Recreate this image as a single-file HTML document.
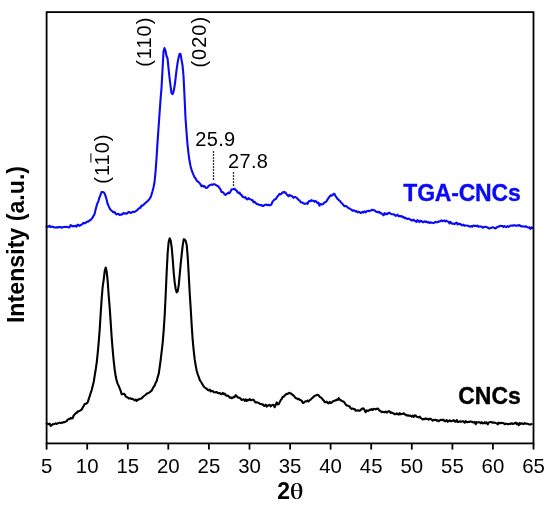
<!DOCTYPE html>
<html><head><meta charset="utf-8"><style>
html,body{margin:0;padding:0;background:#fff;}
svg{display:block;}
</style></head><body>
<svg width="550" height="507" viewBox="0 0 550 507">
<rect width="550" height="507" fill="#fff"/>
<g fill="none" stroke-linejoin="round" stroke-linecap="round">
<path d="M46.5,226.5 L47.5,226.8 L48.5,226.6 L49.5,225.7 L50.5,227.0 L51.5,226.9 L52.5,226.5 L53.5,227.3 L54.5,227.4 L55.5,227.5 L56.5,227.3 L57.5,227.6 L58.5,226.9 L59.5,227.2 L60.5,227.0 L61.5,227.7 L62.5,227.3 L63.5,227.1 L64.5,226.8 L65.5,227.0 L66.5,227.0 L67.5,226.7 L68.5,227.5 L69.5,227.3 L70.5,225.1 L71.5,225.5 L72.5,226.4 L73.5,226.0 L74.5,226.1 L75.5,225.9 L76.5,226.7 L77.5,224.7 L78.5,224.9 L79.5,225.9 L80.5,225.0 L81.5,224.7 L82.5,223.8 L83.5,222.8 L84.5,223.4 L85.5,223.0 L86.5,221.9 L87.5,221.6 L88.5,221.4 L89.5,220.5 L90.5,219.9 L91.5,218.9 L92.5,217.8 L93.5,215.8 L94.5,214.3 L95.5,210.1 L96.5,206.2 L97.5,203.2 L98.5,200.8 L99.5,197.4 L100.5,195.0 L101.5,192.0 L102.5,192.0 L103.5,192.2 L104.5,193.3 L105.5,195.9 L106.5,199.2 L107.5,203.4 L108.5,205.9 L109.5,207.9 L110.5,209.7 L111.5,210.5 L112.5,211.5 L113.5,212.4 L114.5,211.9 L115.5,213.4 L116.5,214.4 L117.5,213.9 L118.5,213.9 L119.5,215.0 L120.5,214.6 L121.5,214.8 L122.5,213.9 L123.5,213.1 L124.5,213.7 L125.5,213.3 L126.5,213.8 L127.5,213.2 L128.5,212.0 L129.5,212.0 L130.5,212.9 L131.5,212.7 L132.5,211.8 L133.5,212.0 L134.5,211.9 L135.5,211.3 L136.5,210.7 L137.5,209.7 L138.5,208.7 L139.5,207.9 L140.5,207.7 L141.5,205.5 L142.5,205.7 L143.5,205.0 L144.5,203.5 L145.5,203.2 L146.5,201.8 L147.5,201.4 L148.5,200.1 L149.5,198.8 L150.5,197.4 L151.5,194.6 L152.5,191.3 L153.5,187.4 L154.5,182.3 L155.5,172.1 L156.5,158.6 L157.5,142.6 L158.5,128.3 L159.5,114.0 L160.5,100.0 L161.5,88.1 L162.5,70.0 L163.5,51.5 L164.5,48.1 L165.5,50.9 L166.5,56.0 L167.5,58.2 L168.5,68.2 L169.5,77.5 L170.5,85.7 L171.5,93.0 L172.5,94.2 L173.5,91.9 L174.5,86.8 L175.5,79.0 L176.5,70.3 L177.5,63.3 L178.5,57.9 L179.5,54.1 L180.5,53.9 L181.5,59.6 L182.5,65.2 L183.5,75.9 L184.5,96.1 L185.5,118.0 L186.5,131.8 L187.5,144.4 L188.5,153.6 L189.5,160.8 L190.5,165.9 L191.5,169.6 L192.5,172.4 L193.5,174.9 L194.5,177.2 L195.5,178.3 L196.5,180.4 L197.5,181.2 L198.5,182.1 L199.5,183.1 L200.5,184.3 L201.5,186.2 L202.5,185.5 L203.5,186.7 L204.5,186.0 L205.5,187.5 L206.5,188.0 L207.5,187.4 L208.5,186.1 L209.5,185.2 L210.5,184.9 L211.5,184.5 L212.5,184.9 L213.5,184.2 L214.5,184.2 L215.5,184.8 L216.5,185.4 L217.5,186.0 L218.5,186.4 L219.5,188.2 L220.5,189.4 L221.5,191.9 L222.5,192.1 L223.5,192.7 L224.5,194.3 L225.5,194.9 L226.5,194.0 L227.5,193.4 L228.5,192.5 L229.5,193.2 L230.5,191.4 L231.5,189.5 L232.5,189.2 L233.5,189.1 L234.5,188.7 L235.5,190.1 L236.5,190.4 L237.5,192.1 L238.5,193.0 L239.5,192.5 L240.5,194.6 L241.5,194.7 L242.5,196.7 L243.5,197.0 L244.5,197.6 L245.5,197.2 L246.5,199.1 L247.5,199.4 L248.5,198.0 L249.5,199.1 L250.5,199.2 L251.5,200.0 L252.5,200.1 L253.5,202.2 L254.5,201.7 L255.5,202.8 L256.5,203.9 L257.5,204.0 L258.5,204.6 L259.5,204.7 L260.5,205.2 L261.5,205.1 L262.5,205.9 L263.5,205.9 L264.5,205.0 L265.5,204.7 L266.5,204.6 L267.5,205.3 L268.5,204.8 L269.5,205.2 L270.5,205.1 L271.5,204.3 L272.5,201.7 L273.5,200.6 L274.5,199.5 L275.5,199.3 L276.5,198.0 L277.5,196.4 L278.5,195.3 L279.5,193.9 L280.5,194.4 L281.5,193.7 L282.5,192.3 L283.5,192.6 L284.5,191.9 L285.5,192.7 L286.5,194.2 L287.5,195.1 L288.5,196.3 L289.5,194.8 L290.5,195.8 L291.5,195.7 L292.5,196.5 L293.5,197.8 L294.5,197.0 L295.5,197.1 L296.5,197.6 L297.5,198.7 L298.5,199.8 L299.5,200.4 L300.5,202.0 L301.5,202.5 L302.5,202.6 L303.5,203.4 L304.5,203.9 L305.5,203.6 L306.5,203.2 L307.5,203.9 L308.5,201.8 L309.5,200.8 L310.5,201.2 L311.5,200.2 L312.5,200.8 L313.5,200.9 L314.5,201.6 L315.5,200.9 L316.5,201.9 L317.5,203.2 L318.5,202.6 L319.5,205.7 L320.5,204.0 L321.5,204.1 L322.5,204.5 L323.5,203.7 L324.5,202.3 L325.5,202.3 L326.5,201.3 L327.5,199.6 L328.5,198.0 L329.5,196.7 L330.5,195.3 L331.5,195.8 L332.5,195.2 L333.5,193.8 L334.5,193.8 L335.5,196.2 L336.5,197.2 L337.5,198.9 L338.5,199.6 L339.5,200.8 L340.5,201.6 L341.5,203.0 L342.5,203.8 L343.5,205.1 L344.5,206.3 L345.5,205.9 L346.5,206.3 L347.5,207.3 L348.5,208.0 L349.5,208.5 L350.5,209.3 L351.5,209.6 L352.5,210.8 L353.5,210.3 L354.5,210.7 L355.5,211.4 L356.5,211.1 L357.5,212.4 L358.5,211.8 L359.5,212.2 L360.5,212.9 L361.5,212.8 L362.5,211.9 L363.5,212.5 L364.5,211.3 L365.5,212.4 L366.5,211.4 L367.5,211.0 L368.5,210.9 L369.5,211.1 L370.5,210.8 L371.5,210.0 L372.5,209.7 L373.5,210.3 L374.5,210.2 L375.5,211.3 L376.5,211.9 L377.5,211.8 L378.5,212.5 L379.5,211.9 L380.5,213.3 L381.5,213.4 L382.5,214.2 L383.5,215.3 L384.5,213.2 L385.5,214.4 L386.5,213.5 L387.5,214.1 L388.5,212.8 L389.5,212.8 L390.5,213.6 L391.5,214.2 L392.5,214.3 L393.5,214.3 L394.5,214.8 L395.5,215.9 L396.5,215.5 L397.5,214.6 L398.5,216.2 L399.5,216.1 L400.5,216.4 L401.5,216.0 L402.5,217.2 L403.5,216.9 L404.5,218.2 L405.5,217.8 L406.5,218.6 L407.5,219.0 L408.5,218.5 L409.5,219.2 L410.5,219.5 L411.5,220.4 L412.5,220.4 L413.5,219.7 L414.5,220.8 L415.5,221.1 L416.5,222.0 L417.5,220.1 L418.5,220.9 L419.5,222.1 L420.5,220.7 L421.5,221.0 L422.5,222.1 L423.5,222.3 L424.5,221.3 L425.5,221.9 L426.5,221.6 L427.5,222.5 L428.5,222.1 L429.5,222.9 L430.5,222.3 L431.5,222.8 L432.5,222.7 L433.5,223.1 L434.5,222.6 L435.5,221.7 L436.5,222.3 L437.5,222.3 L438.5,221.6 L439.5,221.4 L440.5,221.3 L441.5,220.3 L442.5,221.1 L443.5,221.0 L444.5,220.3 L445.5,221.5 L446.5,220.7 L447.5,221.5 L448.5,221.8 L449.5,223.4 L450.5,221.8 L451.5,223.2 L452.5,223.7 L453.5,223.6 L454.5,224.2 L455.5,223.1 L456.5,222.6 L457.5,224.4 L458.5,223.5 L459.5,224.2 L460.5,223.9 L461.5,225.2 L462.5,225.3 L463.5,224.6 L464.5,225.7 L465.5,225.5 L466.5,225.5 L467.5,225.8 L468.5,225.9 L469.5,226.5 L470.5,226.6 L471.5,226.0 L472.5,226.6 L473.5,225.6 L474.5,225.9 L475.5,225.8 L476.5,226.3 L477.5,225.5 L478.5,226.9 L479.5,226.4 L480.5,226.5 L481.5,226.6 L482.5,227.6 L483.5,227.4 L484.5,226.8 L485.5,226.8 L486.5,227.2 L487.5,227.2 L488.5,228.3 L489.5,228.5 L490.5,228.1 L491.5,227.8 L492.5,227.2 L493.5,227.5 L494.5,227.9 L495.5,228.5 L496.5,227.6 L497.5,226.7 L498.5,226.7 L499.5,226.2 L500.5,225.8 L501.5,226.0 L502.5,226.1 L503.5,227.1 L504.5,226.0 L505.5,226.8 L506.5,227.1 L507.5,226.0 L508.5,226.9 L509.5,226.3 L510.5,225.5 L511.5,225.8 L512.5,225.6 L513.5,225.4 L514.5,225.3 L515.5,225.6 L516.5,225.8 L517.5,225.2 L518.5,225.8 L519.5,225.0 L520.5,226.1 L521.5,226.4 L522.5,226.3 L523.5,226.5 L524.5,226.8 L525.5,226.3 L526.5,226.7 L527.5,227.2 L528.5,227.6 L529.5,227.4 L530.5,228.8 L531.5,227.4 L532.5,228.2" stroke="#0a0af5" stroke-width="2.1"/>
<path d="M46.7,423.7 L47.7,423.8 L48.7,424.3 L49.7,423.6 L50.7,425.9 L51.7,425.2 L52.7,424.1 L53.7,424.3 L54.7,423.9 L55.7,423.3 L56.7,424.0 L57.7,423.2 L58.7,423.0 L59.7,422.6 L60.7,423.1 L61.7,422.6 L62.7,422.8 L63.7,422.0 L64.7,422.3 L65.7,421.5 L66.7,421.1 L67.7,419.7 L68.7,419.1 L69.7,418.9 L70.7,417.9 L71.7,418.5 L72.7,418.0 L73.7,415.5 L74.7,414.4 L75.7,413.2 L76.7,412.9 L77.7,411.4 L78.7,411.4 L79.7,410.8 L80.7,410.2 L81.7,409.4 L82.7,407.5 L83.7,406.1 L84.7,404.0 L85.7,403.7 L86.7,403.4 L87.7,402.3 L88.7,399.1 L89.7,396.2 L90.7,392.9 L91.7,390.1 L92.7,386.1 L93.7,382.0 L94.7,375.6 L95.7,369.5 L96.7,362.6 L97.7,353.2 L98.7,342.3 L99.7,329.4 L100.7,313.2 L101.7,298.2 L102.7,286.3 L103.7,279.6 L104.7,271.0 L105.7,267.5 L106.7,271.8 L107.7,281.4 L108.7,295.8 L109.7,307.6 L110.7,322.6 L111.7,337.7 L112.7,350.1 L113.7,360.8 L114.7,369.7 L115.7,376.3 L116.7,380.9 L117.7,383.9 L118.7,385.9 L119.7,388.3 L120.7,390.9 L121.7,394.4 L122.7,394.0 L123.7,393.7 L124.7,394.3 L125.7,396.5 L126.7,397.3 L127.7,397.4 L128.7,398.5 L129.7,398.4 L130.7,398.4 L131.7,399.0 L132.7,398.9 L133.7,399.7 L134.7,400.4 L135.7,399.5 L136.7,401.0 L137.7,399.5 L138.7,399.6 L139.7,398.7 L140.7,398.7 L141.7,398.2 L142.7,397.2 L143.7,396.3 L144.7,395.5 L145.7,394.7 L146.7,393.6 L147.7,393.4 L148.7,392.9 L149.7,392.3 L150.7,391.3 L151.7,390.6 L152.7,388.5 L153.7,386.8 L154.7,385.5 L155.7,382.6 L156.7,381.0 L157.7,377.1 L158.7,373.9 L159.7,367.0 L160.7,359.6 L161.7,351.2 L162.7,342.6 L163.7,330.2 L164.7,315.0 L165.7,294.3 L166.7,271.5 L167.7,252.4 L168.7,241.7 L169.7,238.3 L170.7,240.7 L171.7,247.3 L172.7,258.9 L173.7,272.5 L174.7,282.6 L175.7,289.0 L176.7,292.4 L177.7,291.3 L178.7,285.3 L179.7,274.7 L180.7,263.6 L181.7,254.3 L182.7,245.4 L183.7,239.3 L184.7,239.5 L185.7,241.0 L186.7,245.0 L187.7,256.6 L188.7,274.3 L189.7,293.0 L190.7,308.5 L191.7,325.5 L192.7,340.2 L193.7,350.7 L194.7,359.4 L195.7,365.6 L196.7,370.7 L197.7,374.1 L198.7,376.8 L199.7,379.9 L200.7,381.5 L201.7,383.0 L202.7,384.7 L203.7,386.4 L204.7,387.5 L205.7,388.2 L206.7,388.7 L207.7,389.8 L208.7,390.5 L209.7,389.6 L210.7,391.3 L211.7,390.9 L212.7,391.1 L213.7,392.1 L214.7,392.3 L215.7,392.4 L216.7,392.0 L217.7,393.0 L218.7,393.3 L219.7,392.9 L220.7,394.1 L221.7,394.1 L222.7,392.9 L223.7,394.2 L224.7,393.7 L225.7,395.2 L226.7,395.7 L227.7,395.6 L228.7,396.4 L229.7,397.6 L230.7,397.4 L231.7,398.3 L232.7,397.7 L233.7,396.9 L234.7,397.1 L235.7,395.2 L236.7,396.1 L237.7,397.2 L238.7,397.7 L239.7,397.8 L240.7,398.9 L241.7,400.0 L242.7,399.6 L243.7,399.2 L244.7,400.8 L245.7,399.3 L246.7,400.9 L247.7,399.9 L248.7,400.3 L249.7,399.0 L250.7,400.1 L251.7,400.1 L252.7,399.6 L253.7,400.0 L254.7,401.3 L255.7,402.5 L256.7,402.3 L257.7,402.6 L258.7,402.9 L259.7,403.8 L260.7,404.0 L261.7,404.4 L262.7,404.2 L263.7,405.7 L264.7,405.9 L265.7,404.5 L266.7,406.6 L267.7,405.8 L268.7,405.3 L269.7,404.8 L270.7,406.3 L271.7,405.4 L272.7,404.8 L273.7,405.1 L274.7,407.2 L275.7,404.8 L276.7,402.4 L277.7,404.4 L278.7,404.3 L279.7,402.1 L280.7,400.1 L281.7,399.0 L282.7,396.9 L283.7,396.8 L284.7,395.5 L285.7,394.6 L286.7,393.7 L287.7,393.9 L288.7,393.2 L289.7,392.7 L290.7,393.5 L291.7,394.0 L292.7,395.0 L293.7,395.5 L294.7,396.9 L295.7,398.2 L296.7,398.3 L297.7,399.2 L298.7,398.8 L299.7,399.8 L300.7,400.3 L301.7,400.8 L302.7,402.8 L303.7,402.9 L304.7,401.7 L305.7,401.3 L306.7,401.4 L307.7,400.5 L308.7,401.4 L309.7,400.1 L310.7,399.6 L311.7,398.3 L312.7,397.7 L313.7,396.6 L314.7,395.8 L315.7,395.5 L316.7,395.1 L317.7,394.8 L318.7,395.4 L319.7,396.9 L320.7,397.4 L321.7,398.1 L322.7,399.6 L323.7,400.3 L324.7,402.2 L325.7,402.2 L326.7,401.5 L327.7,403.0 L328.7,403.4 L329.7,401.9 L330.7,403.0 L331.7,402.6 L332.7,401.4 L333.7,401.2 L334.7,400.6 L335.7,400.4 L336.7,399.6 L337.7,400.0 L338.7,398.2 L339.7,399.7 L340.7,400.1 L341.7,401.0 L342.7,401.2 L343.7,401.7 L344.7,402.9 L345.7,404.4 L346.7,405.4 L347.7,405.5 L348.7,406.2 L349.7,406.4 L350.7,408.2 L351.7,408.9 L352.7,408.5 L353.7,409.1 L354.7,409.1 L355.7,410.8 L356.7,410.5 L357.7,410.3 L358.7,410.8 L359.7,410.8 L360.7,409.9 L361.7,409.0 L362.7,408.4 L363.7,408.5 L364.7,410.4 L365.7,412.2 L366.7,410.3 L367.7,410.9 L368.7,410.7 L369.7,409.6 L370.7,410.0 L371.7,409.0 L372.7,410.0 L373.7,408.8 L374.7,409.1 L375.7,409.4 L376.7,408.8 L377.7,408.6 L378.7,409.6 L379.7,410.7 L380.7,411.1 L381.7,412.2 L382.7,411.7 L383.7,412.1 L384.7,412.2 L385.7,411.5 L386.7,412.7 L387.7,411.7 L388.7,411.3 L389.7,411.2 L390.7,412.9 L391.7,412.5 L392.7,413.3 L393.7,413.3 L394.7,414.2 L395.7,414.2 L396.7,413.4 L397.7,414.0 L398.7,414.6 L399.7,413.1 L400.7,414.3 L401.7,414.0 L402.7,413.7 L403.7,413.3 L404.7,414.4 L405.7,414.6 L406.7,415.6 L407.7,415.3 L408.7,415.8 L409.7,415.5 L410.7,416.1 L411.7,416.7 L412.7,415.5 L413.7,416.9 L414.7,415.4 L415.7,415.5 L416.7,416.8 L417.7,417.0 L418.7,417.4 L419.7,416.7 L420.7,418.0 L421.7,418.7 L422.7,419.5 L423.7,418.8 L424.7,419.3 L425.7,418.4 L426.7,419.0 L427.7,418.9 L428.7,419.6 L429.7,418.7 L430.7,418.9 L431.7,419.8 L432.7,420.6 L433.7,419.9 L434.7,420.0 L435.7,419.7 L436.7,420.6 L437.7,420.4 L438.7,421.2 L439.7,420.4 L440.7,419.8 L441.7,420.1 L442.7,419.9 L443.7,419.8 L444.7,421.3 L445.7,421.1 L446.7,420.0 L447.7,421.8 L448.7,421.0 L449.7,420.4 L450.7,421.3 L451.7,421.1 L452.7,420.8 L453.7,420.2 L454.7,421.4 L455.7,421.6 L456.7,420.0 L457.7,421.9 L458.7,421.9 L459.7,421.3 L460.7,421.7 L461.7,421.5 L462.7,421.3 L463.7,421.6 L464.7,422.7 L465.7,421.1 L466.7,422.1 L467.7,422.1 L468.7,421.7 L469.7,421.9 L470.7,421.4 L471.7,421.8 L472.7,422.3 L473.7,422.5 L474.7,421.8 L475.7,424.2 L476.7,422.1 L477.7,422.5 L478.7,422.3 L479.7,422.2 L480.7,423.3 L481.7,422.2 L482.7,423.4 L483.7,423.3 L484.7,422.1 L485.7,423.3 L486.7,422.4 L487.7,424.4 L488.7,422.6 L489.7,422.3 L490.7,421.9 L491.7,422.3 L492.7,422.8 L493.7,422.6 L494.7,422.6 L495.7,423.0 L496.7,423.3 L497.7,424.4 L498.7,422.6 L499.7,423.3 L500.7,423.1 L501.7,422.9 L502.7,423.0 L503.7,423.3 L504.7,424.3 L505.7,423.8 L506.7,423.7 L507.7,424.3 L508.7,424.0 L509.7,423.7 L510.7,423.9 L511.7,423.2 L512.7,423.9 L513.7,423.8 L514.7,423.2 L515.7,422.6 L516.7,424.2 L517.7,423.4 L518.7,425.2 L519.7,423.0 L520.7,424.0 L521.7,423.2 L522.7,423.7 L523.7,424.1 L524.7,423.1 L525.7,423.6 L526.7,423.8 L527.7,423.8 L528.7,424.2 L529.7,424.5 L530.7,424.4 L531.7,424.1" stroke="#000" stroke-width="2.1"/>
</g>
<g stroke="#333" stroke-width="1.3" stroke-dasharray="2,1">
<line x1="213.5" y1="151" x2="213.5" y2="181"/>
<line x1="233.5" y1="172" x2="233.5" y2="187"/>
</g>
<line x1="90.9" y1="153.3" x2="90.9" y2="162.5" stroke="#000" stroke-width="1"/>
<rect x="46.6" y="12.1" width="486.9" height="431.3" fill="none" stroke="#000" stroke-width="1.8"/>
<g stroke="#000" stroke-width="1.8">
<line x1="46.6" y1="443" x2="46.6" y2="449.6"/><line x1="87.2" y1="443" x2="87.2" y2="449.6"/><line x1="127.8" y1="443" x2="127.8" y2="449.6"/><line x1="168.3" y1="443" x2="168.3" y2="449.6"/><line x1="208.9" y1="443" x2="208.9" y2="449.6"/><line x1="249.5" y1="443" x2="249.5" y2="449.6"/><line x1="290.1" y1="443" x2="290.1" y2="449.6"/><line x1="330.6" y1="443" x2="330.6" y2="449.6"/><line x1="371.2" y1="443" x2="371.2" y2="449.6"/><line x1="411.8" y1="443" x2="411.8" y2="449.6"/><line x1="452.4" y1="443" x2="452.4" y2="449.6"/><line x1="492.9" y1="443" x2="492.9" y2="449.6"/><line x1="533.5" y1="443" x2="533.5" y2="449.6"/>
</g>
<g font-family="Liberation Sans, Arial, sans-serif" font-size="20.4" text-anchor="middle" fill="#000">
<text x="46.6" y="473.4">5</text><text x="87.2" y="473.4">10</text><text x="127.8" y="473.4">15</text><text x="168.3" y="473.4">20</text><text x="208.9" y="473.4">25</text><text x="249.5" y="473.4">30</text><text x="290.1" y="473.4">35</text><text x="330.6" y="473.4">40</text><text x="371.2" y="473.4">45</text><text x="411.8" y="473.4">50</text><text x="452.4" y="473.4">55</text><text x="492.9" y="473.4">60</text><text x="533.5" y="473.4">65</text>
</g>
<text x="277.3" y="498.7" font-size="23" font-family="Liberation Sans, Arial, sans-serif" font-weight="bold" fill="#000">2</text><text transform="translate(290.0,498.9) scale(1.2,1)" font-size="19.3" font-family="Noto Serif CJK SC, DejaVu Serif, serif" font-weight="bold" fill="#000">θ</text>
<text transform="translate(23.6,244.5) rotate(-90)" text-anchor="middle" font-family="Liberation Sans, Arial, sans-serif" font-weight="bold" font-size="23.2" fill="#000">Intensity (a.u.)</text>
<text x="403.3" y="201.2" font-family="Liberation Sans, Arial, sans-serif" font-weight="bold" font-size="23" letter-spacing="-0.2" fill="#0a0af5" stroke="#0a0af5" stroke-width="0.35">TGA-CNCs</text>
<text x="458.2" y="403.6" font-family="Liberation Sans, Arial, sans-serif" font-weight="bold" font-size="23" fill="#000" stroke="#000" stroke-width="0.35">CNCs</text>
<g font-family="Liberation Sans, Arial, sans-serif" font-size="20" fill="#000" letter-spacing="1">
<text transform="translate(151.2,41.7) rotate(-90)" text-anchor="middle">(110)</text>
<text transform="translate(206.2,41.7) rotate(-90)" text-anchor="middle">(020)</text>
<text transform="translate(108.8,158.6) rotate(-90)" text-anchor="middle">(110)</text>
</g>
<g font-family="Liberation Sans, Arial, sans-serif" font-size="20" fill="#000" letter-spacing="0.35">
<text x="195.2" y="146.4">25.9</text>
<text x="228" y="167.9">27.8</text>
</g>
</svg>
</body></html>
